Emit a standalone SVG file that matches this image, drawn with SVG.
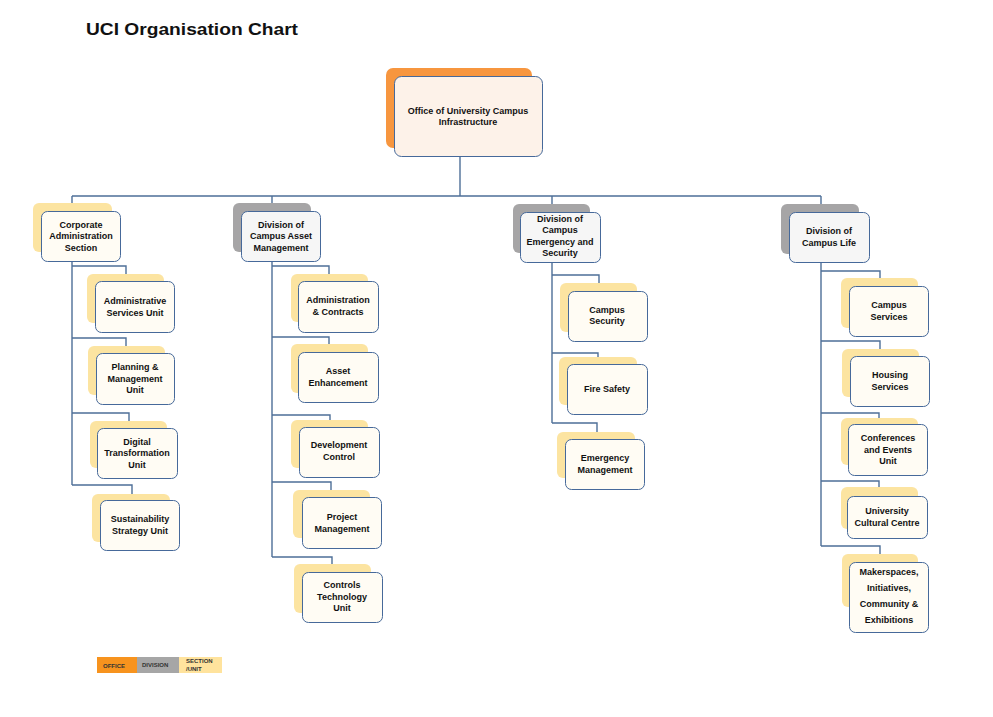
<svg xmlns="http://www.w3.org/2000/svg" width="993" height="717" viewBox="0 0 993 717">
<style>
.bo{fill:#F7963F}
.bg{fill:#A6A5A6}
.by{fill:#FCE4A1}
.f{stroke:#46699A;stroke-width:1}
.fo{fill:#FDF2E9}
.fd{fill:#F6F6F6}
.fs{fill:#FFFCF4}
.t{font-family:"Liberation Sans",Arial,sans-serif;font-weight:bold;font-size:9px;fill:#111;text-anchor:middle}
.c{fill:none;stroke:#4E6F98;stroke-width:1.4}
.lg{font-family:"Liberation Sans",Arial,sans-serif;font-weight:bold;font-size:6px;fill:#333}
</style>
<rect width="993" height="717" fill="#fff"/>
<text x="86" y="35" font-family="'Liberation Sans',Arial,sans-serif" font-weight="bold" font-size="17" fill="#111" textLength="212" lengthAdjust="spacingAndGlyphs">UCI Organisation Chart</text>

<g id="connectors">
<path class="c" d="M460 157V196M72 196H821M72 196V211M272 196V211M552 196V212M821 196V212"/>
<path class="c" d="M72 261V485M72 266H126V274M72 338H126V346M72 413H129V421M72 485H132V494"/>
<path class="c" d="M272 261V557M272 266H329V274M272 337H329V344M272 415H330V420M272 482H331V490M272 557H332V564"/>
<path class="c" d="M552 262V423M552 275H599V283M552 353H598V357M552 423H597V432"/>
<path class="c" d="M821 262V546M821 271H880V278M821 341H880V349M821 413H879V418M821 481H879V487M821 546H880V554"/>
</g>

<g id="office">
<rect class="bo" x="386" y="68" width="146" height="80" rx="7"/>
<rect class="f fo" x="394.5" y="76.5" width="148" height="80" rx="7"/>
<text class="t"><tspan x="468" y="113.5">Office of University Campus</tspan><tspan x="468" y="125">Infrastructure</tspan></text>
</g>

<g id="corporate">
<rect class="by" x="33" y="203" width="79" height="49" rx="6"/>
<rect class="f fs" x="41.5" y="211.5" width="79" height="50" rx="6"/>
<text class="t"><tspan x="81" y="227.5">Corporate</tspan><tspan x="81" y="239">Administration</tspan><tspan x="81" y="250.5">Section</tspan></text>
</g>
<g id="admin-services">
<rect class="by" x="87" y="274" width="77" height="49" rx="6"/>
<rect class="f fs" x="95.5" y="281.5" width="79" height="51" rx="6"/>
<text class="t"><tspan x="135" y="304">Administrative</tspan><tspan x="135" y="315.5">Services Unit</tspan></text>
</g>
<g id="planning">
<rect class="by" x="88" y="346" width="77" height="49" rx="6"/>
<rect class="f fs" x="96.5" y="353.5" width="78" height="51" rx="6"/>
<text class="t"><tspan x="135" y="370">Planning &amp;</tspan><tspan x="135" y="381.5">Management</tspan><tspan x="135" y="393">Unit</tspan></text>
</g>
<g id="digital">
<rect class="by" x="90" y="421" width="77" height="47" rx="6"/>
<rect class="f fs" x="97.5" y="428.5" width="80" height="50" rx="6"/>
<text class="t"><tspan x="137" y="444.5">Digital</tspan><tspan x="137" y="456">Transformation</tspan><tspan x="137" y="467.5">Unit</tspan></text>
</g>
<g id="sustainability">
<rect class="by" x="92" y="494" width="78" height="48" rx="6"/>
<rect class="f fs" x="100.5" y="500.5" width="79" height="50" rx="6"/>
<text class="t"><tspan x="140" y="522">Sustainability</tspan><tspan x="140" y="533.5">Strategy Unit</tspan></text>
</g>

<g id="asset-mgmt">
<rect class="bg" x="233" y="203" width="78" height="49" rx="6"/>
<rect class="f fd" x="241.5" y="211.5" width="79" height="50" rx="6"/>
<text class="t"><tspan x="281" y="227.5">Division of</tspan><tspan x="281" y="239">Campus Asset</tspan><tspan x="281" y="250.5">Management</tspan></text>
</g>
<g id="admin-contracts">
<rect class="by" x="291" y="274" width="77" height="48" rx="6"/>
<rect class="f fs" x="298.5" y="281.5" width="80" height="51" rx="6"/>
<text class="t"><tspan x="338" y="303">Administration</tspan><tspan x="338" y="314.5">&amp; Contracts</tspan></text>
</g>
<g id="asset-enh">
<rect class="by" x="291" y="344" width="77" height="49" rx="6"/>
<rect class="f fs" x="298.5" y="352.5" width="80" height="50" rx="6"/>
<text class="t"><tspan x="338" y="374">Asset</tspan><tspan x="338" y="385.5">Enhancement</tspan></text>
</g>
<g id="dev-control">
<rect class="by" x="291" y="420" width="77" height="48" rx="6"/>
<rect class="f fs" x="299.5" y="427.5" width="80" height="50" rx="6"/>
<text class="t"><tspan x="339" y="448">Development</tspan><tspan x="339" y="459.5">Control</tspan></text>
</g>
<g id="project-mgmt">
<rect class="by" x="293" y="490" width="77" height="48" rx="6"/>
<rect class="f fs" x="302.5" y="497.5" width="79" height="51" rx="6"/>
<text class="t"><tspan x="342" y="520">Project</tspan><tspan x="342" y="531.5">Management</tspan></text>
</g>
<g id="controls-tech">
<rect class="by" x="294" y="564" width="77" height="49" rx="6"/>
<rect class="f fs" x="302.5" y="572.5" width="80" height="50" rx="6"/>
<text class="t"><tspan x="342" y="588">Controls</tspan><tspan x="342" y="599.5">Technology</tspan><tspan x="342" y="611">Unit</tspan></text>
</g>

<g id="emergency">
<rect class="bg" x="513" y="204" width="77" height="49" rx="6"/>
<rect class="f fd" x="520.5" y="212.5" width="80" height="50" rx="6"/>
<text class="t"><tspan x="560" y="221.5">Division of</tspan><tspan x="560" y="233">Campus</tspan><tspan x="560" y="244.5">Emergency and</tspan><tspan x="560" y="256">Security</tspan></text>
</g>
<g id="campus-security">
<rect class="by" x="560" y="283" width="77" height="49" rx="6"/>
<rect class="f fs" x="568.5" y="291.5" width="79" height="50" rx="6"/>
<text class="t"><tspan x="607" y="312.5">Campus</tspan><tspan x="607" y="324">Security</tspan></text>
</g>
<g id="fire-safety">
<rect class="by" x="559" y="357" width="78" height="48" rx="6"/>
<rect class="f fs" x="567.5" y="364.5" width="80" height="50" rx="6"/>
<text class="t"><tspan x="607" y="392">Fire Safety</tspan></text>
</g>
<g id="emergency-mgmt">
<rect class="by" x="557" y="432" width="78" height="46" rx="6"/>
<rect class="f fs" x="565.5" y="439.5" width="79" height="50" rx="6"/>
<text class="t"><tspan x="605" y="461">Emergency</tspan><tspan x="605" y="472.5">Management</tspan></text>
</g>

<g id="campus-life">
<rect class="bg" x="781" y="204" width="78" height="50" rx="6"/>
<rect class="f fd" x="789.5" y="212.5" width="80" height="50" rx="6"/>
<text class="t"><tspan x="829" y="234">Division of</tspan><tspan x="829" y="245.5">Campus Life</tspan></text>
</g>
<g id="campus-services">
<rect class="by" x="841" y="278" width="77" height="50" rx="6"/>
<rect class="f fs" x="849.5" y="286.5" width="79" height="50" rx="6"/>
<text class="t"><tspan x="889" y="308">Campus</tspan><tspan x="889" y="319.5">Services</tspan></text>
</g>
<g id="housing">
<rect class="by" x="842" y="349" width="77" height="48" rx="6"/>
<rect class="f fs" x="850.5" y="356.5" width="79" height="50" rx="6"/>
<text class="t"><tspan x="890" y="378">Housing</tspan><tspan x="890" y="389.5">Services</tspan></text>
</g>
<g id="conferences">
<rect class="by" x="841" y="418" width="77" height="47" rx="6"/>
<rect class="f fs" x="848.5" y="424.5" width="79" height="51" rx="6"/>
<text class="t"><tspan x="888" y="441">Conferences</tspan><tspan x="888" y="452.5">and Events</tspan><tspan x="888" y="464">Unit</tspan></text>
</g>
<g id="cultural-centre">
<rect class="by" x="841" y="487" width="77" height="42" rx="6"/>
<rect class="f fs" x="847.5" y="496.5" width="80" height="42" rx="6"/>
<text class="t"><tspan x="887" y="514">University</tspan><tspan x="887" y="525.5">Cultural Centre</tspan></text>
</g>
<g id="makerspaces">
<rect class="by" x="842" y="554" width="76" height="53" rx="6"/>
<rect class="f fs" x="849.5" y="562.5" width="79" height="70" rx="6"/>
<text class="t"><tspan x="889" y="575">Makerspaces,</tspan><tspan x="889" y="591">Initiatives,</tspan><tspan x="889" y="607">Community &amp;</tspan><tspan x="889" y="623">Exhibitions</tspan></text>
</g>

<g id="legend">
<rect x="97" y="657" width="40" height="16" fill="#F7931E"/>
<rect x="137" y="657" width="42" height="16" fill="#A6A6A6"/>
<rect x="179" y="657" width="43" height="16" fill="#FFE39D"/>
<text class="lg" x="103" y="667.5">OFFICE</text>
<text class="lg" x="142" y="667">DIVISION</text>
<text class="lg" font-size="5.5"><tspan x="186" y="663">SECTION</tspan><tspan x="186" y="670.5">/UNIT</tspan></text>
</g>
</svg>
